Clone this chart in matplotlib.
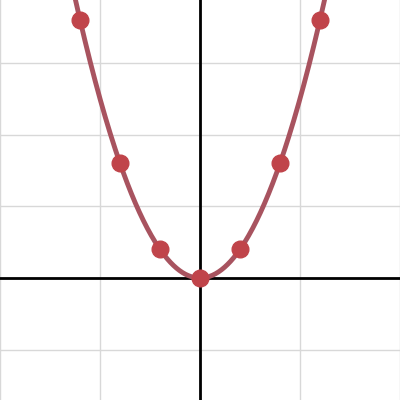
import matplotlib
matplotlib.use('Agg')
import matplotlib.pyplot as plt
import numpy as np

# points on y = x^2
pts_x = [-3, -2, -1, 0, 1, 2, 3]
pts_y = [9, 4, 1, 0, 1, 4, 9]

fig = plt.figure(figsize=(4, 4), dpi=100)
ax = fig.add_axes([0, 0, 1, 1])

ax.set_xlim(-5, 5)
ax.set_ylim(-4.25, 9.69)

grid = np.arange(-5, 12.6, 2.5)
for g in grid:
    ax.axvline(g, color='#d8d8d8', lw=1, zorder=0)
    ax.axhline(g, color='#d8d8d8', lw=1, zorder=0)
ax.axvline(0, color='black', lw=2, zorder=1)
ax.axhline(0, color='black', lw=2, zorder=1)

xs = np.linspace(-5, 5, 400)
ax.plot(xs, xs ** 2, color='#a8535f', lw=3.5, zorder=2)
ax.plot(pts_x, pts_y, 'o', color='#c0444a', markersize=12, zorder=3)

ax.set_xticks([])
ax.set_yticks([])
for s in ax.spines.values():
    s.set_visible(False)

fig.savefig('out.png')
